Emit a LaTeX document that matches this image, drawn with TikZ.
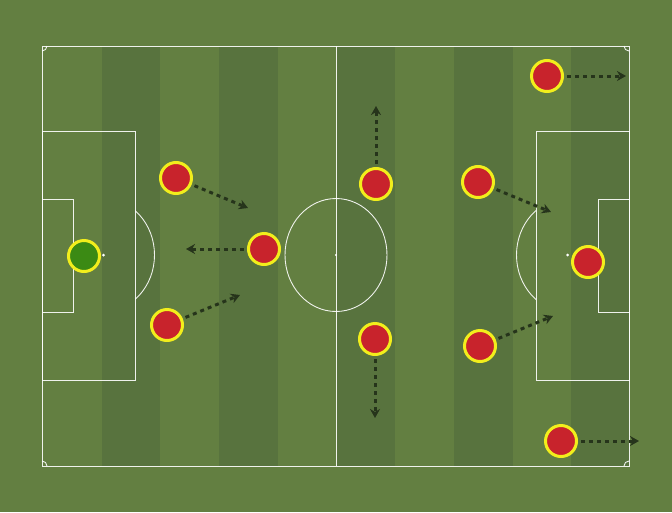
\documentclass[tikz,border=0pt]{standalone}
\usetikzlibrary{arrows.meta}
\definecolor{grassL}{HTML}{637F41}
\definecolor{grassD}{HTML}{58733E}
\definecolor{pred}{HTML}{C8232C}
\definecolor{pyel}{HTML}{F2EE1C}
\definecolor{pgreen}{HTML}{3B8A14}
\definecolor{arr}{HTML}{26341B}
\tikzset{
  pline/.style={draw=white, line width=0.9pt, opacity=0.9},
  player/.style={circle, draw=pyel, line width=3pt, minimum size=31pt, inner sep=0pt},
  redp/.style={player, fill=pred},
  gk/.style={player, fill=pgreen},
  run/.style={draw=arr, line width=3pt, dash pattern=on 4pt off 4pt, -{Stealth[length=9pt,width=10pt]}, shorten <=3pt}
}
\begin{document}
\begin{tikzpicture}[x=1pt,y=-1pt]
\useasboundingbox (0,0) rectangle (672,512);
\fill[grassL] (0,0) rectangle (672,512);
% stripes
\foreach \i in {0,...,4}{
  \fill[grassD] ({101.7+117.4*\i},46) rectangle ({160.4+117.4*\i},466);
}
% pitch lines
\draw[pline] (42,46) rectangle (629,466);
\draw[pline] (336,46) -- (336,466);
\draw[pline] (336,255) ellipse [x radius=51, y radius=56.5];
\fill[white] (336,255) circle (1.2);
% left
\draw[pline] (42,131) rectangle (135,380);
\draw[pline] (42,199) rectangle (73,312);
\fill[white] (103.5,255) circle (1.5);
\begin{scope}
\clip (135,150) rectangle (170,360);
\draw[pline] (103.5,255) ellipse [x radius=51, y radius=56.5];
\end{scope}
% right
\draw[pline] (536,131) rectangle (629,380);
\draw[pline] (598,199) rectangle (629,312);
\fill[white] (567.5,255) circle (1.5);
\begin{scope}
\clip (500,150) rectangle (536,360);
\draw[pline] (567.5,255) ellipse [x radius=51, y radius=56.5];
\end{scope}
% corner arcs
\draw[pline] (47,46) arc[start angle=0, end angle=90, radius=5];
\draw[pline] (624,46) arc[start angle=180, end angle=90, radius=5];
\draw[pline] (47,466) arc[start angle=0, end angle=-90, radius=5];
\draw[pline] (624,466) arc[start angle=180, end angle=270, radius=5];
% players
\node[gk]   (gk) at (84,256) {};
\node[redp] (p1) at (176,178) {};
\node[redp] (p2) at (264,249) {};
\node[redp] (p3) at (167,325) {};
\node[redp] (p4) at (376,184) {};
\node[redp] (p5) at (375,339) {};
\node[redp] (p6) at (478,182) {};
\node[redp] (p7) at (480,346) {};
\node[redp] (p8) at (588,262) {};
\node[redp] (p9) at (547,76) {};
\node[redp] (p10) at (561,441) {};
% targets
\coordinate (t1) at (248,208);
\coordinate (t2) at (186,249);
\coordinate (t3) at (240,295);
\coordinate (t4) at (376,106);
\coordinate (t5) at (375,418);
\coordinate (t6) at (551,212);
\coordinate (t7) at (553,316);
\coordinate (t9) at (626,76);
\coordinate (t10) at (639,441);
% runs
\draw[run] (p1) -- (t1);
\draw[run] (p2) -- (t2);
\draw[run] (p3) -- (t3);
\draw[run] (p4) -- (t4);
\draw[run] (p5) -- (t5);
\draw[run] (p6) -- (t6);
\draw[run] (p7) -- (t7);
\draw[run] (p9) -- (t9);
\draw[run] (p10) -- (t10);
\end{tikzpicture}
\end{document}
